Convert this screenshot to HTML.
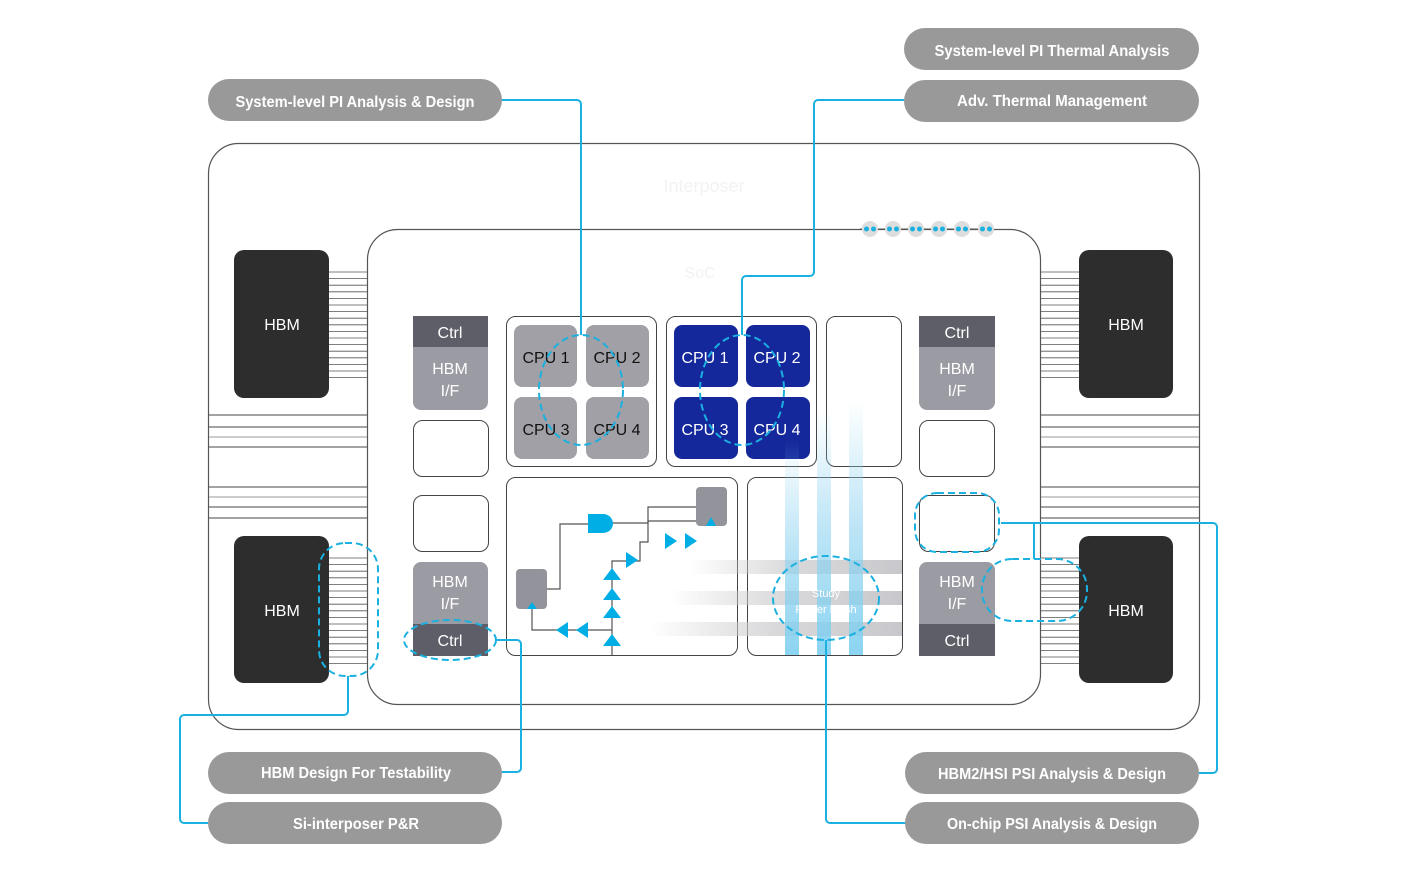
<!DOCTYPE html>
<html><head><meta charset="utf-8"><style>
html,body{margin:0;padding:0;background:#fff;}
svg{display:block;}
text{font-family:"Liberation Sans",sans-serif;}
</style></head><body>
<svg width="1408" height="880" viewBox="0 0 1408 880" xmlns="http://www.w3.org/2000/svg">
<defs>
<linearGradient id="vg" x1="0" y1="0" x2="0" y2="1"><stop offset="0" stop-color="#8fd3f0" stop-opacity="0"/><stop offset="0.5" stop-color="#8fd3f0" stop-opacity="0.6"/><stop offset="1" stop-color="#7fcff0" stop-opacity="0.9"/></linearGradient>
<linearGradient id="hg" x1="0" y1="0" x2="1" y2="0"><stop offset="0" stop-color="#ccc" stop-opacity="0"/><stop offset="0.5" stop-color="#cfcfd2" stop-opacity="0.8"/><stop offset="1" stop-color="#c8c8cc"/></linearGradient>
</defs>

<!-- interposer -->
<rect x="208.5" y="143.5" width="991" height="586" rx="30" fill="#fff" stroke="#555" stroke-width="1.2"/>
<!-- horizontal link lines -->
<g stroke="#444" stroke-width="1">
<line x1="209" y1="415" x2="367" y2="415"/><line x1="209" y1="427" x2="367" y2="427"/><line x1="209" y1="437" x2="367" y2="437" stroke="#999"/><line x1="209" y1="447" x2="367" y2="447"/>
<line x1="209" y1="487" x2="367" y2="487"/><line x1="209" y1="497" x2="367" y2="497" stroke="#999"/><line x1="209" y1="507" x2="367" y2="507"/><line x1="209" y1="518" x2="367" y2="518"/>
<line x1="1041" y1="415" x2="1199" y2="415"/><line x1="1041" y1="427" x2="1199" y2="427"/><line x1="1041" y1="437" x2="1199" y2="437" stroke="#999"/><line x1="1041" y1="447" x2="1199" y2="447"/>
<line x1="1041" y1="487" x2="1199" y2="487"/><line x1="1041" y1="497" x2="1199" y2="497" stroke="#999"/><line x1="1041" y1="507" x2="1199" y2="507"/><line x1="1041" y1="518" x2="1199" y2="518"/>
</g>
<!-- HBM short connectors -->
<g stroke="#555" stroke-width="0.8" id="hc">
<line x1="329" y1="272" x2="367" y2="272"/><line x1="329" y1="278.6" x2="367" y2="278.6"/><line x1="329" y1="285.2" x2="367" y2="285.2"/><line x1="329" y1="291.8" x2="367" y2="291.8"/><line x1="329" y1="298.4" x2="367" y2="298.4"/><line x1="329" y1="305" x2="367" y2="305"/><line x1="329" y1="311.6" x2="367" y2="311.6"/><line x1="329" y1="318.2" x2="367" y2="318.2"/><line x1="329" y1="324.8" x2="367" y2="324.8"/><line x1="329" y1="331.4" x2="367" y2="331.4"/><line x1="329" y1="338" x2="367" y2="338"/><line x1="329" y1="344.6" x2="367" y2="344.6"/><line x1="329" y1="351.2" x2="367" y2="351.2"/><line x1="329" y1="357.8" x2="367" y2="357.8"/><line x1="329" y1="364.4" x2="367" y2="364.4"/><line x1="329" y1="371" x2="367" y2="371"/><line x1="329" y1="377.6" x2="367" y2="377.6"/>
</g>
<use href="#hc" transform="translate(0,286)"/>
<use href="#hc" transform="translate(1408,0) scale(-1,1)"/>
<use href="#hc" transform="translate(1408,286) scale(-1,1)"/>

<!-- SoC -->
<rect x="367.5" y="229.5" width="673" height="475" rx="30" fill="#fff" stroke="#555" stroke-width="1.2"/>
<text x="704" y="192" font-size="18" fill="#f2f2f2" text-anchor="middle">Interposer</text>
<text x="700" y="278" font-size="16" fill="#f2f2f2" text-anchor="middle">SoC</text>

<!-- dots -->
<g>
<line x1="860" y1="229" x2="994" y2="229" stroke="#555" stroke-width="1"/>
<g fill="#ddd"><circle cx="870" cy="229" r="8"/><circle cx="893" cy="229" r="8"/><circle cx="916" cy="229" r="8"/><circle cx="939" cy="229" r="8"/><circle cx="962" cy="229" r="8"/><circle cx="986" cy="229" r="8"/></g>
<g fill="#1ab0e0"><circle cx="866.5" cy="229" r="2.5"/><circle cx="873.5" cy="229" r="2.5"/><circle cx="889.5" cy="229" r="2.5"/><circle cx="896.5" cy="229" r="2.5"/><circle cx="912.5" cy="229" r="2.5"/><circle cx="919.5" cy="229" r="2.5"/><circle cx="935.5" cy="229" r="2.5"/><circle cx="942.5" cy="229" r="2.5"/><circle cx="958.5" cy="229" r="2.5"/><circle cx="965.5" cy="229" r="2.5"/><circle cx="982.5" cy="229" r="2.5"/><circle cx="989.5" cy="229" r="2.5"/></g>
</g>

<!-- HBMs -->
<g fill="#2d2d2d">
<rect x="234" y="250" width="95" height="148" rx="10"/>
<rect x="234" y="536" width="95" height="147" rx="10"/>
<rect x="1079" y="250" width="94" height="148" rx="10"/>
<rect x="1079" y="536" width="94" height="147" rx="10"/>
</g>
<g fill="#fff" font-size="16" text-anchor="middle">
<text x="282" y="330">HBM</text><text x="282" y="616">HBM</text>
<text x="1126" y="330">HBM</text><text x="1126" y="616">HBM</text>
</g>

<!-- left column -->
<path d="M413 347 H488 V402 a8 8 0 0 1 -8 8 H421 a8 8 0 0 1 -8 -8 Z" fill="#9b9ba3"/>
<rect x="413" y="316" width="75" height="31" fill="#5e5e68"/>
<path d="M421 562 H480 a8 8 0 0 1 8 8 V624 H413 V570 a8 8 0 0 1 8 -8 Z" fill="#9b9ba3"/>
<rect x="413" y="624" width="75" height="32" fill="#5e5e68"/>
<rect x="413.5" y="420.5" width="75" height="56" rx="9" fill="#fff" stroke="#444"/>
<rect x="413.5" y="495.5" width="75" height="56" rx="9" fill="#fff" stroke="#444"/>
<!-- right column -->
<path d="M919 347 H995 V402 a8 8 0 0 1 -8 8 H927 a8 8 0 0 1 -8 -8 Z" fill="#9b9ba3"/>
<rect x="919" y="316" width="76" height="31" fill="#5e5e68"/>
<path d="M927 562 H987 a8 8 0 0 1 8 8 V624 H919 V570 a8 8 0 0 1 8 -8 Z" fill="#9b9ba3"/>
<rect x="919" y="624" width="76" height="32" fill="#5e5e68"/>
<rect x="919.5" y="420.5" width="75" height="56" rx="9" fill="#fff" stroke="#444"/>
<rect x="919.5" y="495.5" width="75" height="56" rx="9" fill="#fff" stroke="#444"/>
<g fill="#fff" font-size="16" text-anchor="middle">
<text x="450" y="338">Ctrl</text><text x="450" y="374">HBM</text><text x="450" y="396">I/F</text>
<text x="450" y="587">HBM</text><text x="450" y="609">I/F</text><text x="450" y="646">Ctrl</text>
<text x="957" y="338">Ctrl</text><text x="957" y="374">HBM</text><text x="957" y="396">I/F</text>
<text x="957" y="587">HBM</text><text x="957" y="609">I/F</text><text x="957" y="646">Ctrl</text>
</g>

<!-- CPU groups -->
<rect x="506.5" y="316.5" width="150" height="150" rx="9" fill="#fff" stroke="#444"/>
<rect x="666.5" y="316.5" width="150" height="150" rx="9" fill="#fff" stroke="#444"/>
<rect x="826.5" y="316.5" width="75" height="150" rx="9" fill="#fff" stroke="#444"/>
<g fill="#a0a0a6">
<rect x="514" y="325" width="63" height="62" rx="8"/><rect x="586" y="325" width="63" height="62" rx="8"/>
<rect x="514" y="397" width="63" height="62" rx="8"/><rect x="586" y="397" width="63" height="62" rx="8"/>
</g>
<g fill="#15289b">
<rect x="674" y="325" width="64" height="62" rx="8"/><rect x="746" y="325" width="64" height="62" rx="8"/>
<rect x="674" y="397" width="64" height="62" rx="8"/><rect x="746" y="397" width="64" height="62" rx="8"/>
</g>
<g font-size="16" text-anchor="middle" fill="#111">
<text x="546" y="363">CPU 1</text><text x="617" y="363">CPU 2</text><text x="546" y="435">CPU 3</text><text x="617" y="435">CPU 4</text>
</g>
<g font-size="16" text-anchor="middle" fill="#fff">
<text x="705" y="363">CPU 1</text><text x="777" y="363">CPU 2</text><text x="705" y="435">CPU 3</text><text x="777" y="435">CPU 4</text>
</g>

<!-- lower boxes -->
<rect x="506.5" y="477.5" width="231" height="178" rx="9" fill="#fff" stroke="#444"/>
<rect x="747.5" y="477.5" width="155" height="178" rx="9" fill="#fff" stroke="#444"/>
<!-- power mesh -->
<rect x="690" y="560" width="212" height="14" fill="url(#hg)"/>
<rect x="670" y="591" width="232" height="14" fill="url(#hg)"/>
<rect x="650" y="622" width="252" height="14" fill="url(#hg)"/>
<rect x="785" y="440" width="14" height="215" fill="url(#vg)"/>
<rect x="817" y="410" width="14" height="245" fill="url(#vg)"/>
<rect x="849" y="400" width="14" height="255" fill="url(#vg)"/>
<text x="826" y="597" font-size="11" fill="#fff" text-anchor="middle">Study</text>
<text x="826" y="613" font-size="11" fill="#fff" text-anchor="middle">Power Mesh</text>

<!-- logic -->
<g fill="none" stroke="#555" stroke-width="1.2">
<path d="M547 589 H560 V524 H600"/>
<path d="M612 523 H648 V507 H711"/>
<path d="M612 640 V561 H640 V542 H648 V521 H711 V512"/>
<path d="M612 630 H532 V604"/>
<path d="M612 640 V655"/>
</g>
<rect x="696" y="487" width="31" height="39" rx="4" fill="#93939b"/>
<rect x="516" y="569" width="31" height="40" rx="4" fill="#93939b"/>
<path d="M588 514 H603 a10 9.5 0 0 1 0 19 H588 Z" fill="#00aee6"/>
<g fill="#00aee6">
<polygon points="711,517 706,526 716,526"/><polygon points="532,602 527,609 537,609"/>
<polygon points="612,568 603,580 621,580"/><polygon points="612,588 603,600 621,600"/>
<polygon points="612,606 603,618 621,618"/><polygon points="612,634 603,646 621,646"/>
<polygon points="626,552 626,568 638,560"/>
<polygon points="665,533 665,549 677,541"/><polygon points="685,533 685,549 697,541"/>
<polygon points="556,630 568,622 568,638"/><polygon points="576,630 588,622 588,638"/>
</g>

<!-- connectors -->
<g fill="none" stroke="#1ab0e0" stroke-width="2">
<path d="M502 100 H577 a4 4 0 0 1 4 4 V335"/>
<path d="M904 100 H818 a4 4 0 0 0 -4 4 V272 a4 4 0 0 1 -4 4 H746 a4 4 0 0 0 -4 4 V335"/>
<path d="M502 772 H517 a4 4 0 0 0 4 -4 V644 a4 4 0 0 0 -4 -4 H497"/>
<path d="M208 823 H184 a4 4 0 0 1 -4 -4 V719 a4 4 0 0 1 4 -4 H344 a4 4 0 0 0 4 -4 V676"/>
<path d="M1199 773 H1213 a4 4 0 0 0 4 -4 V527 a4 4 0 0 0 -4 -4 H1001"/>
<path d="M1034 523 V559"/>
<path d="M905 823 H830 a4 4 0 0 1 -4 -4 V640"/>
</g>
<g fill="none" stroke="#1ab0e0" stroke-width="2" stroke-dasharray="7 4">
<ellipse cx="581" cy="390" rx="42" ry="55"/>
<ellipse cx="742" cy="390" rx="42" ry="55"/>
<ellipse cx="450" cy="640" rx="46" ry="20"/>
<rect x="319" y="543" width="59" height="133" rx="26"/>
<rect x="915" y="493" width="84" height="59" rx="22"/>
<rect x="982" y="559" width="105" height="62" rx="30"/>
<ellipse cx="826" cy="598" rx="53" ry="42"/>
</g>

<!-- pills -->
<g fill="#999">
<rect x="208" y="79" width="294" height="42" rx="21"/>
<rect x="904" y="28" width="295" height="42" rx="21"/>
<rect x="904" y="80" width="295" height="42" rx="21"/>
<rect x="208" y="752" width="294" height="42" rx="21"/>
<rect x="208" y="802" width="294" height="42" rx="21"/>
<rect x="905" y="752" width="294" height="42" rx="21"/>
<rect x="905" y="802" width="294" height="42" rx="21"/>
</g>
<g fill="#fff" font-size="16" font-weight="bold" text-anchor="middle" lengthAdjust="spacingAndGlyphs">
<text x="355" y="107" textLength="239" lengthAdjust="spacingAndGlyphs">System-level PI Analysis &amp; Design</text>
<text x="1052" y="56" textLength="235" lengthAdjust="spacingAndGlyphs">System-level PI Thermal Analysis</text>
<text x="1052" y="106" textLength="190" lengthAdjust="spacingAndGlyphs">Adv. Thermal Management</text>
<text x="356" y="778" textLength="190" lengthAdjust="spacingAndGlyphs">HBM Design For Testability</text>
<text x="356" y="829" textLength="126" lengthAdjust="spacingAndGlyphs">Si-interposer P&amp;R</text>
<text x="1052" y="779" textLength="228" lengthAdjust="spacingAndGlyphs">HBM2/HSI PSI Analysis &amp; Design</text>
<text x="1052" y="829" textLength="210" lengthAdjust="spacingAndGlyphs">On-chip PSI Analysis &amp; Design</text>
</g>
</svg>
</body></html>
